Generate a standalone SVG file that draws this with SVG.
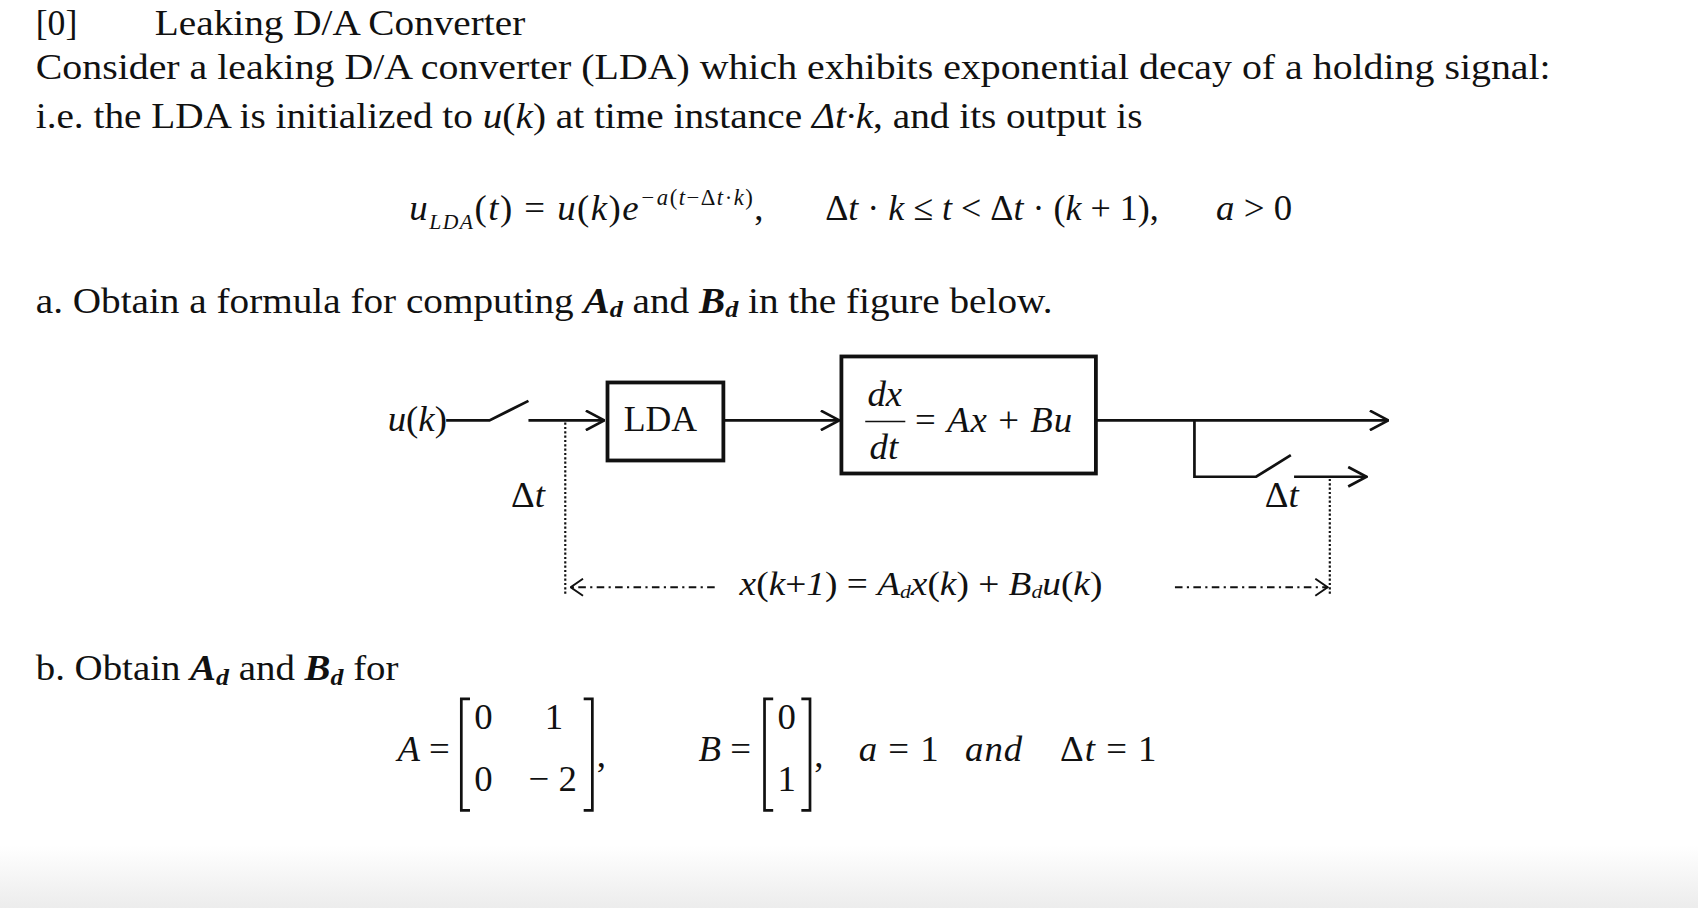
<svg xmlns="http://www.w3.org/2000/svg" width="1698" height="908" viewBox="0 0 1698 908">
<defs>
<style>
text{font-family:"Liberation Serif","Times New Roman",serif;fill:#111}
.t{font-size:33px}
.i{font-style:italic}
.m{font-size:34px}
.ln{stroke:#111;stroke-width:2.5;fill:none}
.bx{stroke:#111;stroke-width:3.5;fill:#fff}
.dot{stroke:#111;stroke-width:2;stroke-dasharray:2 2;fill:none}
.dd{stroke:#111;stroke-width:2;stroke-dasharray:7 4 2 4;fill:none}
</style>
<marker id="ah" viewBox="0 0 20 20" refX="19" refY="10" markerWidth="20" markerHeight="20" markerUnits="userSpaceOnUse" orient="auto"><path d="M2 1 L19 10 L2 19" fill="none" stroke="#111" stroke-width="2.5"/></marker>
<marker id="ad" viewBox="0 0 16 20" refX="15" refY="10" markerWidth="14" markerHeight="18" markerUnits="userSpaceOnUse" orient="auto"><path d="M2 1 L15 10 L2 19" fill="none" stroke="#111" stroke-width="2"/></marker>
<linearGradient id="sh" x1="0" y1="0" x2="0" y2="1"><stop offset="0" stop-color="#fff"/><stop offset="1" stop-color="#ececec"/></linearGradient>
</defs>
<rect width="1698" height="908" fill="#fff"/>
<g transform="scale(1.0829,1.0835)">
<rect x="0" y="780" width="1568" height="58" fill="url(#sh)"/>
<g id="text">
<text class="t" x="33" y="32">[0]</text>
<text class="t" x="143" y="32" textLength="342" lengthAdjust="spacingAndGlyphs">Leaking D/A Converter</text>
<text class="t" x="33" y="73" textLength="1399" lengthAdjust="spacingAndGlyphs">Consider a leaking D/A converter (LDA) which exhibits exponential decay of a holding signal:</text>
<text class="t" x="33" y="118" textLength="1022" lengthAdjust="spacingAndGlyphs">i.e. the LDA is initialized to <tspan class="i">u</tspan>(<tspan class="i">k</tspan>) at time instance <tspan class="i">Δt·k</tspan>, and its output is</text>
<text class="m" x="378" y="203" textLength="327" lengthAdjust="spacing"><tspan class="i">u</tspan><tspan class="i" font-size="20" dy="8">LDA</tspan><tspan dy="-8">(</tspan><tspan class="i">t</tspan>) = <tspan class="i">u</tspan>(<tspan class="i">k</tspan>)<tspan class="i">e</tspan><tspan font-size="21" dy="-14"><tspan class="i">−a</tspan>(<tspan class="i">t</tspan>−Δ<tspan class="i">t</tspan>·<tspan class="i">k</tspan>)</tspan><tspan dy="14">,</tspan></text>
<text class="m" x="762" y="203" textLength="308" lengthAdjust="spacingAndGlyphs">Δ<tspan class="i">t</tspan> · <tspan class="i">k</tspan> ≤ <tspan class="i">t</tspan> &lt; Δ<tspan class="i">t</tspan> · (<tspan class="i">k</tspan> + 1),</text>
<text class="m" x="1123" y="203"><tspan class="i">a</tspan> &gt; 0</text>
<text class="t" x="33" y="289" textLength="939" lengthAdjust="spacingAndGlyphs">a. Obtain a formula for computing <tspan class="i" font-weight="bold">A</tspan><tspan class="i" font-weight="bold" font-size="22" dy="4">d</tspan><tspan dy="-4"> and </tspan><tspan class="i" font-weight="bold">B</tspan><tspan class="i" font-weight="bold" font-size="22" dy="4">d</tspan><tspan dy="-4"> in the figure below.</tspan></text>
<text class="t" x="33" y="628" textLength="335" lengthAdjust="spacingAndGlyphs">b. Obtain <tspan class="i" font-weight="bold">A</tspan><tspan class="i" font-weight="bold" font-size="22" dy="4">d</tspan><tspan dy="-4"> and </tspan><tspan class="i" font-weight="bold">B</tspan><tspan class="i" font-weight="bold" font-size="22" dy="4">d</tspan><tspan dy="-4"> for</tspan></text>
</g>
<g id="connectors">
<path class="ln" d="M412 388 H452 L488 370"/>
<path class="ln" d="M488 388 H558" marker-end="url(#ah)"/>
<path class="ln" d="M668 388 H775" marker-end="url(#ah)"/>
<path class="ln" d="M1012 388 H1282" marker-end="url(#ah)"/>
<path class="ln" d="M1103 388 V440 H1160 L1192 420"/>
<path class="ln" d="M1195 440 H1262" marker-end="url(#ah)"/>
<path class="dot" d="M522 390 V548"/>
<path class="dot" d="M1228 442 V548"/>
<path class="dd" d="M660 542 H527" marker-end="url(#ad)"/>
<path class="dd" d="M1085 542 H1226" marker-end="url(#ad)"/>
</g>
<g id="uk"><text class="m" x="358" y="398"><tspan class="i">u</tspan>(<tspan class="i">k</tspan>)</text></g>
<g id="dt1"><text class="m" x="472" y="468">Δ<tspan class="i">t</tspan></text></g>
<g id="dt2"><text class="m" x="1168" y="468">Δ<tspan class="i">t</tspan></text></g>
<g id="lda"><rect class="bx" x="561" y="353" width="107" height="72"/><text class="t" x="576" y="398">LDA</text></g>
<g id="plant"><rect class="bx" x="777" y="329" width="235" height="108"/>
<text class="m i" x="801" y="375">dx</text><line x1="799" y1="389" x2="836" y2="389" stroke="#111" stroke-width="1.5"/><text class="m i" x="803" y="424">dt</text>
<text class="m" x="845" y="399" textLength="145" lengthAdjust="spacing">= <tspan class="i">Ax</tspan> + <tspan class="i">Bu</tspan></text></g>
<g id="eq"><text font-size="31" x="683" y="549" textLength="335" lengthAdjust="spacingAndGlyphs"><tspan class="i">x</tspan>(<tspan class="i">k</tspan>+<tspan class="i">1</tspan>) = <tspan class="i">A</tspan><tspan class="i" font-size="18" dy="3">d</tspan><tspan class="i" dy="-3">x</tspan>(<tspan class="i">k</tspan>) + <tspan class="i">B</tspan><tspan class="i" font-size="18" dy="3">d</tspan><tspan class="i" dy="-3">u</tspan>(<tspan class="i">k</tspan>)</text></g>
<g id="matrices">
<text class="m" x="367" y="702"><tspan class="i">A</tspan> =</text>
<path class="ln" d="M434 645 H426 V748 H434 M539 645 H547 V748 H539" stroke-width="2"/>
<text class="m" x="438" y="673">0</text><text class="m" x="503" y="673">1</text>
<text class="m" x="438" y="730">0</text><text class="m" x="488" y="730">− 2</text>
<text class="m" x="551" y="708">,</text>
<text class="m" x="645" y="702"><tspan class="i">B</tspan> =</text>
<path class="ln" d="M714 645 H706 V748 H714 M740 645 H748 V748 H740" stroke-width="2"/>
<text class="m" x="718" y="673">0</text><text class="m" x="718" y="730">1</text>
<text class="m" x="752" y="708">,</text>
<text class="m" x="793" y="702" textLength="275" lengthAdjust="spacing"><tspan class="i">a</tspan> = 1 <tspan dx="14" class="i">and</tspan><tspan dx="34">Δ</tspan><tspan class="i">t</tspan> = 1</text>
</g>
</g>
</svg>
